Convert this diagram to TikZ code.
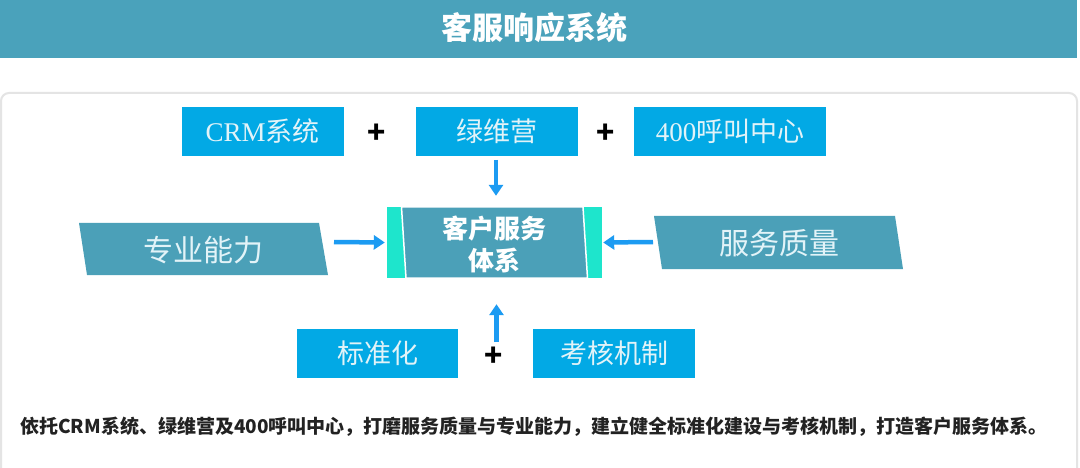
\documentclass[tikz,border=0pt]{standalone}
\usepackage{fontspec}
\setmainfont{Liberation Serif}
\newfontfamily\cjk{Noto Sans CJK SC}
\newfontfamily\lat{Liberation Serif}
\usetikzlibrary{arrows.meta,calc}
\definecolor{hdr}{HTML}{4AA2BB}
\definecolor{boxblue}{HTML}{02A9E5}
\definecolor{teal}{HTML}{4BA0B8}
\definecolor{strip}{HTML}{1EE5CC}
\definecolor{arrblue}{HTML}{1C9BF2}
\definecolor{pale}{HTML}{E2F3F8}
\definecolor{frame}{HTML}{E4E4E4}
\definecolor{darktxt}{HTML}{222222}
\tikzset{
  bluebox/.style={fill=boxblue, inner sep=0pt, minimum height=48.5pt, text=pale,
    font=\cjk\fontsize{27}{30}\selectfont},
  plussign/.style={font=\cjk\bfseries\fontsize{30}{30}\selectfont, text=black, inner sep=0pt},
  tealtext/.style={text=pale, inner sep=0pt, font=\cjk\fontsize{30}{34}\selectfont},
  arr/.style={draw=arrblue, line width=4.5pt, -{Triangle[length=11pt,width=14pt]}},
}
\begin{document}
\begin{tikzpicture}[x=1pt,y=-1pt]
\useasboundingbox (0,0) rectangle (1080,468);
\fill[white] (0,0) rectangle (1080,468);
% header
\fill[hdr] (0,0) rectangle (1077,58);
\node[text=white, font=\cjk\bfseries\fontsize{31}{32}\selectfont, inner sep=0pt] (title) at (534,28) {客服响应系统};
% frame
\draw[frame, line width=2pt, rounded corners=8pt] (1,93) rectangle (1077,500);
% top row
\node[bluebox, minimum width=162pt] (crm) at (262.7,131.5) {{\lat CRM}系统};
\node[bluebox, minimum width=162pt] (lvy) at (497,131.5) {绿维营};
\node[bluebox, minimum width=192pt] (call) at (730,131.5) {{\lat 400}呼叫中心};
\node[plussign] (p1) at (377,134) {+};
\node[plussign] (p2) at (606,134) {+};
% center box
\node[fill=strip, minimum width=215pt, minimum height=71pt, inner sep=0pt] (core) at (494.5,242.5) {};
\fill[teal, draw=white, line width=1.5pt] (401.5,207) -- (583,207) -- (587.5,278) -- (406,278) -- cycle;
\node[text=white, align=center, inner sep=0pt, font=\cjk\bfseries\fontsize{26}{32}\selectfont] (coretxt) at (494,244) {客户服务\\体系};
% side parallelograms
\fill[teal] (79,223) -- (319,223) -- (328,275) -- (87,275) -- cycle;
\node[tealtext] (zy) at (203,250) {专业能力};
\fill[teal] (654,216) -- (895,216) -- (903,269) -- (662,269) -- cycle;
\node[tealtext] (fw) at (779,243) {服务质量};
% bottom row
\node[bluebox, minimum width=161pt] (bz) at (377.5,353.5) {标准化};
\node[bluebox, minimum width=162pt] (kh) at (614,353.5) {考核机制};
\node[plussign] (p3) at (494,357) {+};
% arrows
\coordinate (zyR) at (334,242);
\coordinate (fwL) at (653,242);
\coordinate (upS) at (496.5,342);
\draw[arr] ($(lvy.south)+(-1,4)$) -- ($(core.north)+(1.5,-11)$);
\draw[arr] (zyR) -- ($(core.west)+(-2,0)$);
\draw[arr] (fwL) -- ($(core.east)+(1,0)$);
\draw[arr] (upS) -- ($(core.south)+(2,26)$);
% caption
\node[text=darktxt, inner sep=0pt, font=\cjk\bfseries\fontsize{19}{20}\selectfont] (cap) at (534,427) {依托CRM系统、绿维营及400呼叫中心，打磨服务质量与专业能力，建立健全标准化建设与考核机制，打造客户服务体系。};
\end{tikzpicture}
\end{document}
